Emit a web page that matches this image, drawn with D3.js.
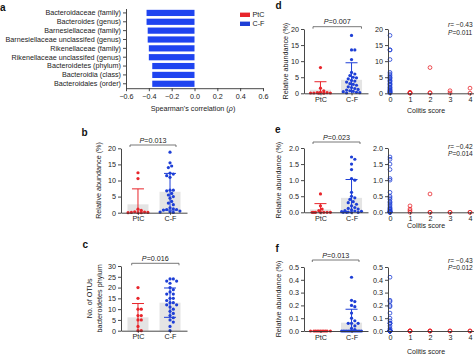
<!DOCTYPE html>
<html><head><meta charset="utf-8">
<script src="https://cdn.jsdelivr.net/npm/d3@7"></script>
<style>body{margin:0;background:#fff}svg{display:block}</style>
</head><body>
<svg id="c" width="474" height="355"></svg>
<script>
// ---------------- DATA ----------------
const groups = ["PtC", "C-F"];
const taxa = ["Bacteroidaceae (family)", "Bacteroides (genus)", "Barnesiellaceae (family)",
  "Barnesiellaceae unclassifed (genus)", "Rikenellaceae (family)", "Rikenellaceae unclassifed (genus)",
  "Bacteroidetes (phylum)", "Bacteroidia (class)", "Bacteroidales (order)"];
const rho = [-0.42, -0.42, -0.41, -0.41, -0.40, -0.40, -0.37, -0.37, -0.37];
const rhoTicks = [-0.6, -0.4, -0.2, 0.0, 0.2, 0.4, 0.6];

// colitis scores of PtC mice (C-F mice all score 0)
const ptcScores = [1, 1, 1, 1, 2, 2, 2, 3, 3, 4, 4];

// panel b: relative abundance (%)
const bPtC = [12.4, 10.6, 1.1, 0.7, 0.3, 0.2, 0.1, 0.1, 0, 0, 0];
const bCF = [18.8, 15.5, 14.5, 14, 12.3, 12, 11.5, 11, 7, 7, 6.8, 6, 5.5, 5, 4.5, 3.5, 3, 2.5, 1.5, 1.2, 1, 1, 0.8, 0.5, 0.3, 0.2, 0.1];
const bMean = [2.6, 6.5], bSD = [4.8, 5.7];
const bTicks = [0, 5, 10, 15, 20];

// panel c: No. of OTUs bacteroidetes phylum
const cPtC = [20, 15, 10, 10, 7, 7, 5, 5, 2, 0, 0];
const cCF = [24, 24, 23, 23, 22, 20, 19, 18, 17, 17, 15, 15, 14, 13, 13, 12, 12, 11, 10, 9, 8, 7, 6, 5, 4, 2, 0];
const cMean = [6.2, 13.0], cSD = [6.4, 6.8];
const cTicks = [0, 5, 10, 15, 20, 25, 30];

// panel d
const dPtC = [0.3, 0.2, 0.1, 0.05, 8.0, 0.2, 0.1, 0.8, 0.1, 1.6, 0.05];
const dCF = [18, 13.5, 13.5, 10.5, 6.5, 6, 5.5, 5, 4.8, 4.5, 4, 3.8, 3.5, 3, 2.8, 2.5, 2, 1.8, 1.5, 1.2, 1, 0.8, 0.6, 0.5, 0.3, 0.2, 0.1];
const dMean = [1.1, 4.2], dSD = [2.5, 5.3];
const dTicks = [0, 5, 10, 15, 20];

// panel e
const ePtC = [0.2, 0.1, 0.05, 0, 0.57, 0, 0, 0, 0, 0, 0];
const eCF = [1.72, 1.65, 1.5, 1.33, 1.05, 1.0, 0.62, 0.5, 0.45, 0.4, 0.33, 0.3, 0.25, 0.2, 0.15, 0.12, 0.1, 0.08, 0.05, 0.04, 0.03, 0.02, 0.01, 0, 0, 0, 0];
const eMean = [0.09, 0.45], eSD = [0.18, 0.57];
const eTicks = [0, 0.5, 1.0, 1.5, 2.0];

// panel f
const fPtC = [0, 0, 0, 0, 0, 0, 0, 0, 0, 0, 0];
const fCF = [0.42, 0.24, 0.23, 0.2, 0.19, 0.14, 0.1, 0.08, 0.06, 0.06, 0.06, 0.04, 0.02, 0.01, 0, 0, 0, 0, 0, 0, 0, 0, 0, 0, 0, 0, 0];
const fMean = [0, 0.065], fSD = [0, 0.105];
const fTicks = [0, 0.1, 0.2, 0.3, 0.4, 0.5];

const scoreTicks = [0, 1, 2, 3, 4];
const pValues = ["0.013", "0.016", "0.007", "0.023", "0.013"];
const corrR = ["\u22120.43", "\u22120.42", "\u22120.43"];
const corrP = ["0.011", "0.014", "0.012"];

// ---------------- STYLE ----------------
const FONT = "'Liberation Sans', Arial, Helvetica, sans-serif";
const FS = 7.2;
const RED = "#e8252b", BLUE = "#1e3fd6", BARBLUE = "#1f44f0", AX = "#333";
const colors = [RED, BLUE];
const svg = d3.select("#c").attr("font-family", FONT);

function styleAxis(sel) {
  sel.selectAll("path,line").attr("stroke", AX).attr("stroke-width", 0.9);
  sel.selectAll("text").attr("font-size", FS).attr("fill", "#222").attr("font-family", FONT);
}
function letter(t, x, y) {
  svg.append("text").attr("x", x).attr("y", y).text(t)
    .attr("font-size", 10).attr("font-weight", "bold").attr("fill", "#111");
}
function italicLabel(g, x, y, it, rest, anchor, fs) {
  const t = g.append("text").attr("x", x).attr("y", y).attr("font-size", fs || FS)
    .attr("fill", "#222").attr("text-anchor", anchor || "middle");
  t.append("tspan").attr("font-style", "italic").text(it);
  t.append("tspan").text(rest);
  return t;
}

// ---------------- PANEL a ----------------
const xa = d3.scaleLinear().domain([-0.6, 0.6]).range([126, 263]);
const ya = d3.scaleBand().domain(taxa).range([8.5, 88.2]).paddingInner(0.3).paddingOuter(0.15);
const ga = svg.append("g");
ga.selectAll("rect.bar").data(taxa).join("rect").attr("class", "bar")
  .attr("x", (d, i) => xa(Math.min(0, rho[i])))
  .attr("width", (d, i) => Math.abs(xa(rho[i]) - xa(0)))
  .attr("y", d => ya(d)).attr("height", ya.bandwidth()).attr("fill", BARBLUE);
ga.append("g").attr("transform", "translate(0,88.2)")
  .call(d3.axisBottom(xa).tickValues(rhoTicks).tickFormat(d3.format(".1f")).tickSize(3).tickPadding(3).tickSizeOuter(0))
  .call(styleAxis);
ga.append("g").attr("transform", "translate(126,0)")
  .call(d3.axisLeft(ya).tickSize(3).tickPadding(2).tickSizeOuter(0))
  .call(styleAxis);
{
  const t = ga.append("text").attr("x", 193).attr("y", 110.5).attr("text-anchor", "middle")
    .attr("font-size", FS).attr("fill", "#222");
  t.append("tspan").text("Spearman's correlation (");
  t.append("tspan").attr("font-style", "italic").text("\u03C1");
  t.append("tspan").text(")");
}
letter("a", 0, 11);
// legend
groups.forEach((g, i) => {
  svg.append("rect").attr("x", 240).attr("y", 12.6 + i * 9).attr("width", 10).attr("height", 4.4).attr("fill", colors[i]);
  svg.append("text").attr("x", 252.5).attr("y", 17.4 + i * 9).text(g).attr("font-size", FS).attr("fill", "#222");
});

// ---------------- helpers ----------------
function swarm(vals, y, d, maxHalf) {
  const order = vals.map((v, i) => i).sort((a, b) => vals[b] - vals[a]);
  const placed = [];
  const offs = new Array(vals.length).fill(0);
  const h = d / 2;
  const cands = [0];
  for (let k = 1; k * h <= maxHalf + 0.01; k++) { cands.push(k * h, -k * h); }
  order.forEach(i => {
    const yy = y(vals[i]);
    let best = 0, bestMin = -1;
    for (const c of cands) {
      let mn = Infinity;
      for (const p of placed) { mn = Math.min(mn, Math.hypot(p[0] - c, p[1] - yy)); }
      if (mn >= d * 0.98) { best = c; bestMin = Infinity; break; }
      if (mn > bestMin) { bestMin = mn; best = c; }
    }
    offs[i] = best;
    placed.push([best, yy]);
  });
  return offs;
}

function dotPanel(o) {
  const x = d3.scalePoint().domain(groups).range([o.x0, o.x1]).padding(0.53);
  const y = d3.scaleLinear().domain([0, o.max]).range([o.y0, o.y1]);
  const g = svg.append("g");
  groups.forEach((grp, gi) => {
    g.append("rect").attr("x", x(grp) - 10.5).attr("width", 21)
      .attr("y", y(o.mean[gi])).attr("height", y(0) - y(o.mean[gi])).attr("fill", "#e4e4e4");
  });
  [o.ptc, o.cf].forEach((vals, gi) => {
    const offs = swarm(vals, y, 3.3, 10.5);
    g.append("g").selectAll("circle").data(vals).join("circle")
      .attr("cx", (v, i) => x(groups[gi]) + offs[i]).attr("cy", v => y(v))
      .attr("r", 1.6).attr("fill", colors[gi]);
  });
  groups.forEach((grp, gi) => {
    const m = o.mean[gi], s = o.sd[gi];
    if (s <= 0) return;
    const lo = Math.max(0, m - s), hi = m + s, cx = x(grp);
    g.append("line").attr("x1", cx).attr("x2", cx).attr("y1", y(lo)).attr("y2", y(hi))
      .attr("stroke", colors[gi]).attr("stroke-width", 1);
    g.append("line").attr("x1", cx - 6).attr("x2", cx + 6).attr("y1", y(hi)).attr("y2", y(hi))
      .attr("stroke", colors[gi]).attr("stroke-width", 1);
    if (m - s > 0) g.append("line").attr("x1", cx - 6).attr("x2", cx + 6).attr("y1", y(lo)).attr("y2", y(lo))
      .attr("stroke", colors[gi]).attr("stroke-width", 1);
  });
  g.append("g").attr("transform", `translate(${o.x0},0)`)
    .call(d3.axisLeft(y).tickValues(o.ticks).tickFormat(o.fmt).tickSize(3).tickPadding(2).tickSizeOuter(0))
    .call(styleAxis);
  g.append("g").attr("transform", `translate(0,${o.y0})`)
    .call(d3.axisBottom(x).tickSize(2).tickPadding(1.5).tickSizeOuter(0))
    .call(styleAxis);
  // y title
  const cy = (o.y0 + o.y1) / 2;
  o.title.forEach((t, i) => {
    g.append("text").attr("transform", `translate(${o.titleX[i]},${cy}) rotate(-90)`)
      .attr("text-anchor", "middle").attr("dy", "0.35em").attr("font-size", FS).attr("fill", "#222").text(t);
  });
  // bracket
  const b = o.bracket;
  g.append("path").attr("d", `M${b[0]},${b[2] + 2}V${b[2]}H${b[1]}V${b[2] + 2}`)
    .attr("fill", "none").attr("stroke", "#555").attr("stroke-width", 0.8);
  italicLabel(g, (b[0] + b[1]) / 2, b[2] - 2.4, "P", "=" + o.p);
  return y;
}

function scatterPanel(o, y) {
  const x = d3.scaleLinear().domain([-0.1, 4.2]).range([388, 474]);
  const g = svg.append("g");
  g.append("g").selectAll("circle").data(o.cf).join("circle")
    .attr("cx", x(0)).attr("cy", v => y(v)).attr("r", 1.9)
    .attr("fill", "none").attr("stroke", BLUE).attr("stroke-width", 0.8);
  g.append("g").selectAll("circle").data(o.ptc).join("circle")
    .attr("cx", (v, i) => x(ptcScores[i])).attr("cy", v => y(v)).attr("r", 1.9)
    .attr("fill", "none").attr("stroke", RED).attr("stroke-width", 0.8);
  g.append("g").attr("transform", "translate(388,0)")
    .call(d3.axisLeft(y).tickValues(o.ticks).tickFormat(o.fmt).tickSize(3).tickPadding(2).tickSizeOuter(0))
    .call(styleAxis);
  g.append("g").attr("transform", `translate(0,${y(0)})`)
    .call(d3.axisBottom(x).tickValues(scoreTicks).tickFormat(d3.format("d")).tickSize(2).tickPadding(1.5).tickSizeOuter(0))
    .call(styleAxis);
  g.append("text").attr("x", 426).attr("y", o.titleY).attr("text-anchor", "middle")
    .attr("font-size", 7).attr("fill", "#222").text("Colitis score");
  italicLabel(g, 448, o.rY, "r", "= " + o.r, "start", 6.6);
  italicLabel(g, 448, o.rY + 7.5, "P", "=" + o.pc, "start", 6.6);
}

const fInt = d3.format("d"), f1 = d3.format(".1f");
const relTitle = ["Relative abundance (%)"];

// ---------------- PANEL b ----------------
dotPanel({ x0: 121, x1: 187, y0: 212.7, y1: 148.3, max: 20, ticks: bTicks, fmt: fInt,
  ptc: bPtC, cf: bCF, mean: bMean, sd: bSD, title: relTitle, titleX: [98],
  bracket: [130, 176, 145], p: pValues[0] });
letter("b", 81.5, 136);

// ---------------- PANEL c ----------------
dotPanel({ x0: 121, x1: 187, y0: 330.7, y1: 266, max: 30, ticks: cTicks, fmt: fInt,
  ptc: cPtC, cf: cCF, mean: cMean, sd: cSD, title: ["No. of OTUs", "bacteroidetes phylum"], titleX: [89.5, 99.5],
  bracket: [131.7, 179, 263.3], p: pValues[1] });
letter("c", 82.5, 247.5);

// ---------------- PANEL d ----------------
const yd = dotPanel({ x0: 304, x1: 368, y0: 93.3, y1: 29, max: 20, ticks: dTicks, fmt: fInt,
  ptc: dPtC, cf: dCF, mean: dMean, sd: dSD, title: relTitle, titleX: [285],
  bracket: [313, 361.5, 26.7], p: pValues[2] });
scatterPanel({ cf: dCF, ptc: dPtC, ticks: dTicks, fmt: fInt, titleY: 113, rY: 27.3, r: corrR[0], pc: corrP[0] }, yd);
letter("d", 275.5, 8.5);

// ---------------- PANEL e ----------------
const ye = dotPanel({ x0: 304, x1: 368, y0: 212.3, y1: 148, max: 2.0, ticks: eTicks, fmt: f1,
  ptc: ePtC, cf: eCF, mean: eMean, sd: eSD, title: relTitle, titleX: [278],
  bracket: [313, 360, 142], p: pValues[3] });
scatterPanel({ cf: eCF, ptc: ePtC, ticks: eTicks, fmt: f1, titleY: 227.8, rY: 148.5, r: corrR[1], pc: corrP[1] }, ye);
letter("e", 275, 133);

// ---------------- PANEL f ----------------
const yf = dotPanel({ x0: 304, x1: 368, y0: 331, y1: 267, max: 0.5, ticks: fTicks, fmt: f1,
  ptc: fPtC, cf: fCF, mean: fMean, sd: fSD, title: relTitle, titleX: [278],
  bracket: [312.3, 359, 260], p: pValues[4] });
scatterPanel({ cf: fCF, ptc: fPtC, ticks: fTicks, fmt: f1, titleY: 354, rY: 262.5, r: corrR[2], pc: corrP[2] }, yf);
letter("f", 275.5, 252);
</script>
</body></html>
